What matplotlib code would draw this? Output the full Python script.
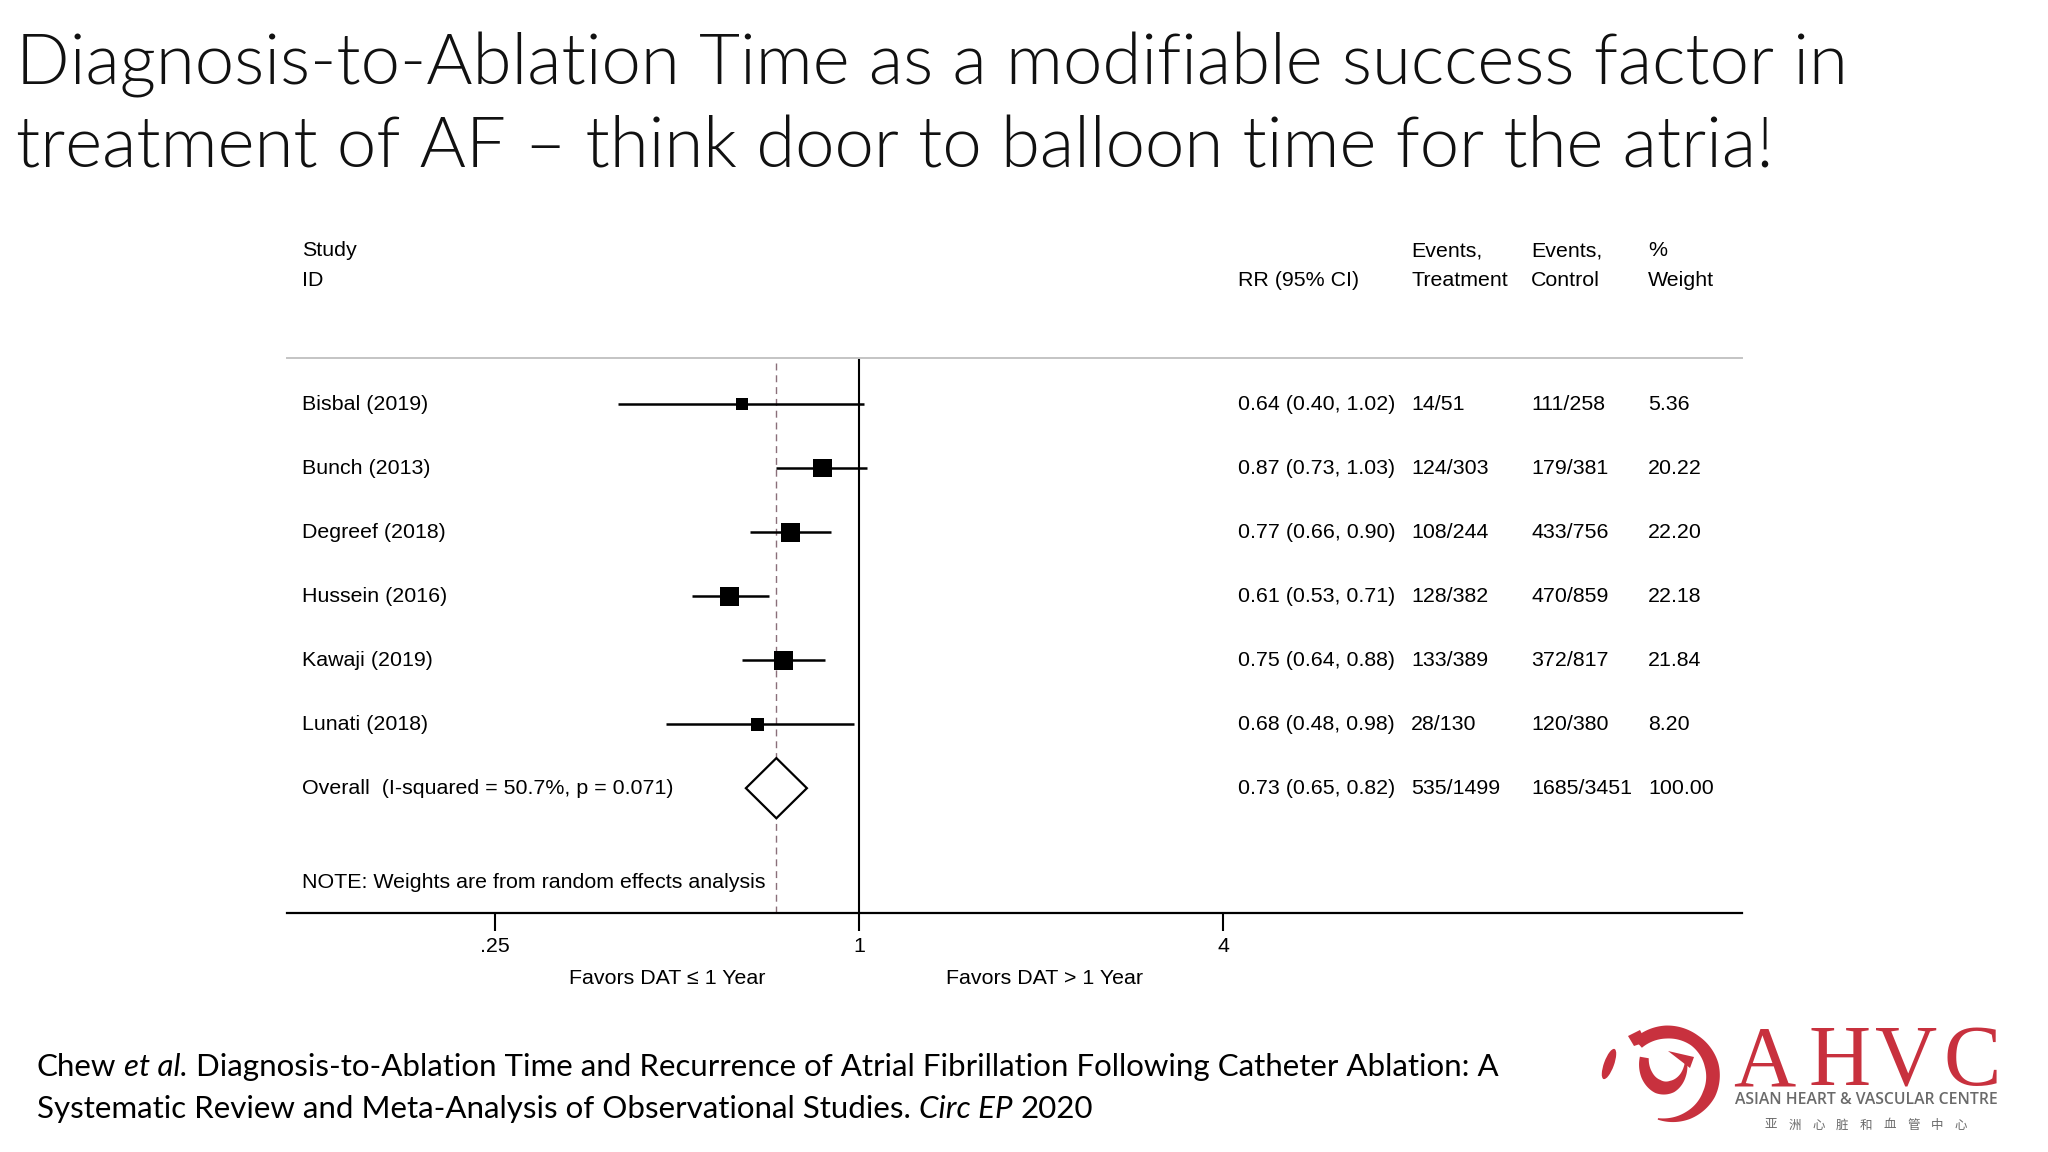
"""
Forest plot slide: diagnosis-to-ablation time meta-analysis
"""

import numpy as np
import matplotlib
matplotlib.use("Agg")
import matplotlib.pyplot as plt
import matplotlib.transforms as mtransforms
from matplotlib.patches import Polygon, Ellipse

W, H = 2048, 1152

# Study data
studies = ["Bisbal (2019)", "Bunch (2013)", "Degreef (2018)",
           "Hussein (2016)", "Kawaji (2019)", "Lunati (2018)"]
rr = [0.64, 0.87, 0.77, 0.61, 0.75, 0.68]
ci_lo = [0.40, 0.73, 0.66, 0.53, 0.64, 0.48]
ci_hi = [1.02, 1.03, 0.90, 0.71, 0.88, 0.98]
events_trt = [14, 124, 108, 128, 133, 28]
n_trt = [51, 303, 244, 382, 389, 130]
events_ctl = [111, 179, 433, 470, 372, 120]
n_ctl = [258, 381, 756, 859, 817, 380]
weights = [5.36, 20.22, 22.20, 22.18, 21.84, 8.20]

overall_rr = 0.73
overall_lo = 0.65
overall_hi = 0.82
overall_label = "Overall  (I-squared = 50.7%, p = 0.071)"

tick_vals = [0.25, 1, 4]
tick_labels = [".25", "1", "4"]

FONT = "Liberation Sans"
FS = 15.4
RED = "#c8313e"

fig = plt.figure(figsize=(W / 100, H / 100), dpi=100)
fig.patch.set_facecolor("white")
renderer = fig.canvas.get_renderer()


def fx(px):
    return px / W


def fy(py):
    return 1 - py / H


def measure(s, size, family, style="normal", weight="normal"):
    t = fig.text(0, 0, s, fontsize=size, family=family, style=style, fontweight=weight)
    w = t.get_window_extent(renderer).width
    t.remove()
    return w


def text_runs(runs, x0, y, size, family, target=None, color="black", weight="normal"):
    def layout(sz):
        ws = [measure(s, sz, family, st, weight) for s, st in runs]
        gap = measure("a a", sz, family, weight=weight) - measure("aa", sz, family, weight=weight)
        return ws, gap
    ws, gap = layout(size)
    if target:
        size *= target / (sum(ws) + gap * (len(runs) - 1))
        ws, gap = layout(size)
    x = x0
    for (s, st), w in zip(runs, ws):
        fig.text(fx(x), fy(y), s, fontsize=size, family=family, style=st,
                 fontweight=weight, va="baseline", color=color)
        x += w + gap
    return size


# ---- title ----
title1 = "Diagnosis-to-Ablation Time as a modifiable success factor in"
title2 = "treatment of AF \u2013 think door to balloon time for the atria!"
tsize = text_runs([(title1, "normal")], 16, 85, 50, ["Lato", "DejaVu Sans"],
                  target=1833, color="#111111", weight=300)
text_runs([(title2, "normal")], 16, 167, tsize, ["Lato", "DejaVu Sans"],
          color="#111111", weight=300)

# ---- forest axes ----
ax = fig.add_axes([fx(287), fy(913), (1742 - 287) / W, (913 - 358) / H])
ax.set_xscale("log")
ax.set_xlim(2 ** ((287 - 859) / 182), 2 ** ((1742 - 859) / 182))
ax.set_ylim(7.95, -0.72)
ax.patch.set_alpha(0)

for s in ["left", "right"]:
    ax.spines[s].set_visible(False)
ax.spines["top"].set_color("#c4c4c4")
ax.spines["top"].set_linewidth(1.4)
ax.spines["bottom"].set_linewidth(1.6)

ax.set_yticks([])
ax.set_xticks(tick_vals)
ax.set_xticklabels(tick_labels, fontsize=FS, family=FONT)
ax.xaxis.set_minor_locator(matplotlib.ticker.NullLocator())
ax.tick_params(axis="x", direction="out", length=13, width=1.5, pad=4)

ax.axvline(1, color="black", lw=1.5, zorder=2)
ax.axvline(overall_rr, color="#8a6f7a", lw=1.0, linestyle=(0, (5, 3.5)), zorder=1)

rows = np.arange(len(studies))
ax.hlines(rows, ci_lo, ci_hi, color="black", lw=1.8, zorder=3)
side_px = 4 + 3.2 * np.sqrt(np.array(weights))
ax.scatter(rr, rows, marker="s", s=(side_px * 0.72) ** 2, color="black",
           linewidths=0, zorder=4)

oy = len(studies)
diamond = [(overall_lo, oy), (overall_rr, oy - 0.47), (overall_hi, oy),
           (overall_rr, oy + 0.47)]
ax.add_patch(Polygon(diamond, closed=True, facecolor="white", edgecolor="black",
                     lw=1.6, zorder=4))

# ---- table text ----
tr = mtransforms.blended_transform_factory(fig.transFigure, ax.transData)
col_study, col_rr, col_trt, col_ctl, col_w = fx(302), fx(1238), fx(1411), fx(1531), fx(1648)

for i, name in enumerate(studies):
    vals = [(col_study, name),
            (col_rr, f"{rr[i]:.2f} ({ci_lo[i]:.2f}, {ci_hi[i]:.2f})"),
            (col_trt, f"{events_trt[i]}/{n_trt[i]}"),
            (col_ctl, f"{events_ctl[i]}/{n_ctl[i]}"),
            (col_w, f"{weights[i]:.2f}")]
    for x, s in vals:
        ax.text(x, i, s, transform=tr, fontsize=FS, family=FONT, va="center")

ov = [(col_study, overall_label),
      (col_rr, f"{overall_rr:.2f} ({overall_lo:.2f}, {overall_hi:.2f})"),
      (col_trt, f"{sum(events_trt)}/{sum(n_trt)}"),
      (col_ctl, f"{sum(events_ctl)}/{sum(n_ctl)}"),
      (col_w, f"{sum(weights):.2f}")]
for x, s in ov:
    ax.text(x, oy, s, transform=tr, fontsize=FS, family=FONT, va="center")

# headers
hdr = [(302, 251, "Study"), (302, 280, "ID"), (1238, 280, "RR (95% CI)"),
       (1411, 251, "Events,"), (1411, 280, "Treatment"),
       (1531, 251, "Events,"), (1531, 280, "Control"),
       (1648, 251, "%"), (1648, 280, "Weight")]
for x, y, s in hdr:
    fig.text(fx(x), fy(y), s, fontsize=FS, family=FONT, va="center")

fig.text(fx(302), fy(883), "NOTE: Weights are from random effects analysis",
         fontsize=FS, family=FONT, va="center")
fig.text(fx(765), fy(979), "Favors DAT \u2264 1 Year", fontsize=FS, family=FONT,
         va="center", ha="right")
fig.text(fx(946), fy(979), "Favors DAT > 1 Year", fontsize=FS, family=FONT,
         va="center", ha="left")

# ---- footer citation ----
cite1 = [("Chew", "normal"), ("et al.", "italic"),
         ("Diagnosis-to-Ablation Time and Recurrence of Atrial Fibrillation Following Catheter Ablation: A", "normal")]
cite2 = [("Systematic Review and Meta-Analysis of Observational Studies.", "normal"),
         ("Circ EP", "italic"), ("2020", "normal")]
csize = text_runs(cite1, 37, 1076, 20, ["Lato", "DejaVu Sans"], target=1465)
text_runs(cite2, 37, 1118, csize, ["Lato", "DejaVu Sans"])

# ---- logo ----
lax = fig.add_axes([fx(1590), fy(1140), 140 / W, 120 / H])
lax.set_xlim(1590, 1730)
lax.set_ylim(1140, 1020)
lax.axis("off")


def arc_stroke(cx, cy, rx, ry, t0, t1, widths):
    t = np.radians(np.linspace(t0, t1, 120))
    w = np.interp(np.linspace(0, 1, 120), np.linspace(0, 1, len(widths)), widths)
    outer = np.c_[cx + (rx + w / 2) * np.cos(t), cy + (ry + w / 2) * np.sin(t)]
    inner = np.c_[cx + (rx - w / 2) * np.cos(t), cy + (ry - w / 2) * np.sin(t)]
    lax.add_patch(Polygon(np.concatenate([outer, inner[::-1]]), closed=True,
                          facecolor=RED, lw=0))


arc_stroke(1668, 1076, 45, 44, 228, 463, [12, 13, 12, 14, 13, 8, 1.5])
arc_stroke(1665, 1062, 21, 26, 190, -10, [9, 12, 14, 12, 6, 1])
lax.add_patch(Polygon([(1668, 1051), (1694, 1057), (1690, 1068)], closed=True,
                      facecolor=RED, lw=0))
lax.add_patch(Polygon([(1628, 1036), (1640, 1030), (1646, 1042), (1634, 1046)],
                      closed=True, facecolor=RED, lw=0))
lax.add_patch(Ellipse((1609, 1064), 10, 32, angle=20, facecolor=RED, lw=0))

for ch, xc in zip("AHVC", [1764, 1840, 1906, 1972]):
    fig.text(fx(xc), fy(1085), ch, fontsize=62, family="Liberation Serif",
             color=RED, ha="center", va="baseline")

sub = fig.text(fx(1735), fy(1100), "ASIAN HEART & VASCULAR CENTRE", fontsize=10,
               family="Open Sans", fontweight="semibold", color="#6a6a6a", va="center")
bb = sub.get_window_extent(renderer)
sub.set_fontsize(10 * 263 / bb.width)

cn = "亚洲心脏和血管中心"
for ch, xc in zip(cn, np.linspace(1771, 1961, len(cn))):
    fig.text(fx(xc), fy(1125), ch, fontsize=9, family="Noto Sans CJK SC",
             color="#6a6a6a", ha="center", va="center")

fig.savefig("out.png", dpi=100)
